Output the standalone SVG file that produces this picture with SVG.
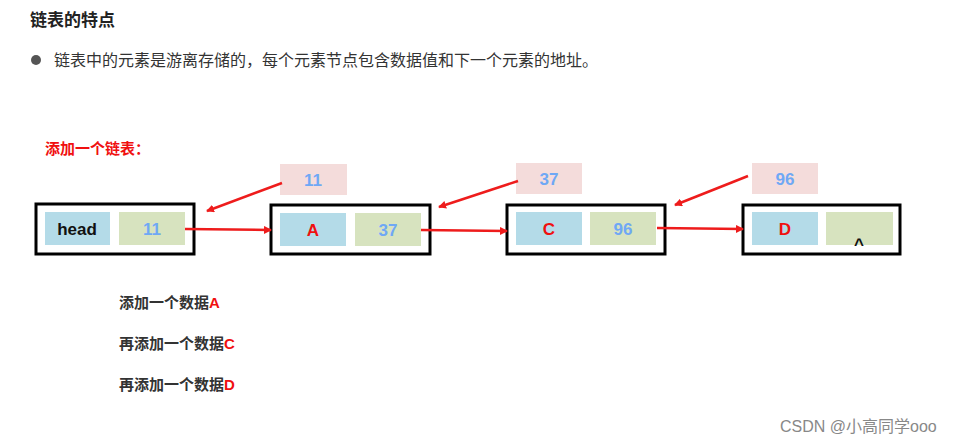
<svg xmlns="http://www.w3.org/2000/svg" width="977" height="445" viewBox="0 0 977 445">
<defs>
<style>
text{font-family:"Liberation Sans","Noto Sans CJK SC",sans-serif;font-weight:bold}
.box{fill:#fff;stroke:#000;stroke-width:3}
.b{fill:#b4dbe8}.g{fill:#d7e3bf}.p{fill:#f4dcdb}
.num{fill:#6fa8f5;font-size:17px}
.red{fill:#f01010}
.lbl{font-size:17px;text-anchor:middle}
.cn{fill:#333;font-size:15px}
.nrm{font-weight:normal}
.ar{stroke:#ee1c1c;stroke-width:2.5;fill:none;marker-end:url(#ah)}
</style>
<marker id="ah" markerWidth="8" markerHeight="8" refX="7" refY="4" orient="auto" markerUnits="userSpaceOnUse" viewBox="0 0 8 8"><path d="M0,0L8,4L0,8z" fill="#ee1c1c"/></marker>
</defs>
<rect width="977" height="445" fill="#fff"/>
<text x="30" y="26" font-size="17" fill="#222">链表的特点</text>
<circle cx="36" cy="60" r="5" fill="#555"/>
<text x="54" y="66" font-size="16" fill="#333" class="nrm">链表中的元素是游离存储的，每个元素节点包含数据值和下一个元素的地址。</text>
<text x="45" y="154" font-size="15" class="red">添加一个链表：</text>
<g id="head"><rect class="box" x="36" y="204" width="158" height="50"/><rect class="b" x="45" y="212" width="65" height="33"/><rect class="g" x="119" y="212" width="66" height="33"/><text class="lbl" x="77" y="235" fill="#111">head</text><text class="lbl num" x="152" y="235">11</text></g>
<g id="nA"><rect class="box" x="271" y="205" width="159" height="49"/><rect class="b" x="280" y="213" width="66" height="33"/><rect class="g" x="355" y="213" width="66" height="33"/><text class="lbl red" x="313" y="236">A</text><text class="lbl num" x="388" y="236">37</text></g>
<g id="nC"><rect class="box" x="507" y="205" width="158" height="49"/><rect class="b" x="516" y="212" width="66" height="33"/><rect class="g" x="590" y="212" width="66" height="33"/><text class="lbl red" x="549" y="235">C</text><text class="lbl num" x="623" y="235">96</text></g>
<g id="nD"><rect class="box" x="743" y="205" width="157" height="49"/><rect class="b" x="752" y="212" width="66" height="33"/><rect class="g" x="826" y="212" width="67" height="33"/><text class="lbl red" x="785" y="235">D</text><text class="lbl" x="859" y="250" font-size="34" fill="#111">^</text></g>
<g id="p11"><rect class="p" x="280" y="164" width="67" height="31"/><text class="lbl num" x="313" y="186">11</text></g>
<g id="p37"><rect class="p" x="516" y="163" width="66" height="31"/><text class="lbl num" x="549" y="185">37</text></g>
<g id="p96"><rect class="p" x="752" y="163" width="66" height="31"/><text class="lbl num" x="785" y="185">96</text></g>
<g id="connectors">
<line class="ar" x1="282" y1="183" x2="207" y2="211"/>
<line class="ar" x1="518" y1="181" x2="439" y2="207"/>
<line class="ar" x1="748" y1="176" x2="675" y2="205"/>
<line class="ar" x1="185" y1="229" x2="271" y2="230"/>
<line class="ar" x1="421" y1="230" x2="507" y2="231"/>
<line class="ar" x1="657" y1="228" x2="743" y2="229"/>
</g>
<text x="119" y="308" class="cn">添加一个数据<tspan class="red">A</tspan></text>
<text x="119" y="349" class="cn">再添加一个数据<tspan class="red">C</tspan></text>
<text x="119" y="390" class="cn">再添加一个数据<tspan class="red">D</tspan></text>
<text x="780" y="432" font-size="16" fill="#888" class="nrm">CSDN @小高同学ooo</text>
</svg>
